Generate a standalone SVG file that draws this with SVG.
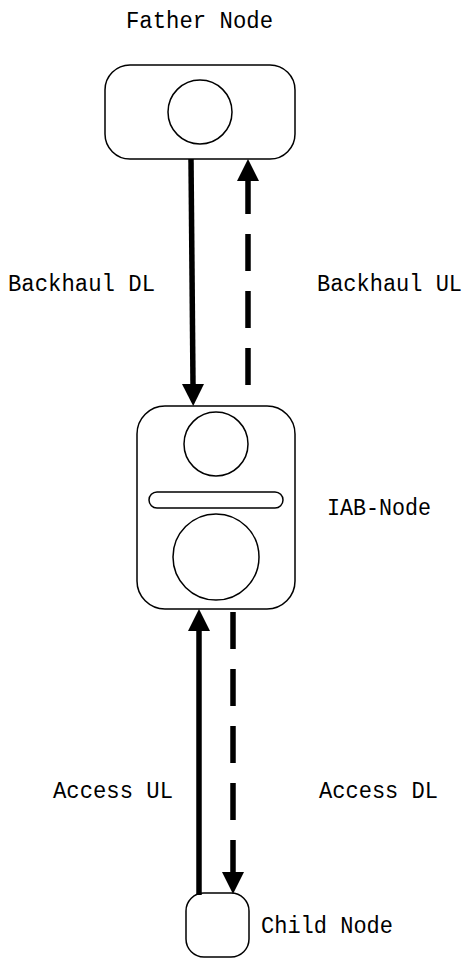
<svg xmlns="http://www.w3.org/2000/svg" width="474" height="967" viewBox="0 0 474 967">
<style>
.box{fill:#fff;stroke:#000;stroke-width:1.5}
.circ{fill:none;stroke:#000;stroke-width:1.5}
.lbl{font-family:"Liberation Mono","DejaVu Sans Mono",monospace;font-size:23px;fill:#000}
.solid{stroke:#000;stroke-width:5.5;fill:none}
.dash{stroke:#000;stroke-width:5.5;fill:none;stroke-dasharray:37 20}
</style>
<defs>
<marker id="ah" markerUnits="userSpaceOnUse" markerWidth="23" markerHeight="23" refX="0" refY="11" orient="auto" overflow="visible">
<path d="M0,0 L22,11 L0,22 z" fill="#000"/>
</marker>
</defs>
<rect width="474" height="967" fill="#fff"/>
<g id="father">
<rect class="box" x="105" y="65" width="190" height="94" rx="25"/>
<circle class="circ" cx="200" cy="112" r="32"/>
<text class="lbl" x="126" y="28" textLength="147" lengthAdjust="spacingAndGlyphs">Father Node</text>
</g>
<g id="iab">
<rect class="box" x="137" y="406" width="158" height="203" rx="28"/>
<circle class="circ" cx="216" cy="444" r="32"/>
<rect class="circ" x="149" y="492" width="134" height="16" rx="8"/>
<circle class="circ" cx="216" cy="557" r="43"/>
<text class="lbl" x="327" y="515" textLength="104" lengthAdjust="spacingAndGlyphs">IAB-Node</text>
</g>
<g id="child">
<rect class="box" x="186" y="893" width="63" height="64" rx="18"/>
<text class="lbl" x="261" y="933" textLength="132" lengthAdjust="spacingAndGlyphs">Child Node</text>
</g>
<g id="connectors">
<path class="solid" d="M191,159 L193,384" marker-end="url(#ah)"/>
<path class="dash" d="M248,385 L248,181" marker-end="url(#ah)"/>
<path class="solid" d="M199,895 L199,631" marker-end="url(#ah)"/>
<path class="dash" d="M233,612 L233,872" marker-end="url(#ah)"/>
<text class="lbl" x="8" y="291" textLength="147" lengthAdjust="spacingAndGlyphs">Backhaul DL</text>
<text class="lbl" x="317" y="291" textLength="145" lengthAdjust="spacingAndGlyphs">Backhaul UL</text>
<text class="lbl" x="53" y="798" textLength="120" lengthAdjust="spacingAndGlyphs">Access UL</text>
<text class="lbl" x="319" y="798" textLength="119" lengthAdjust="spacingAndGlyphs">Access DL</text>
</g>
</svg>
